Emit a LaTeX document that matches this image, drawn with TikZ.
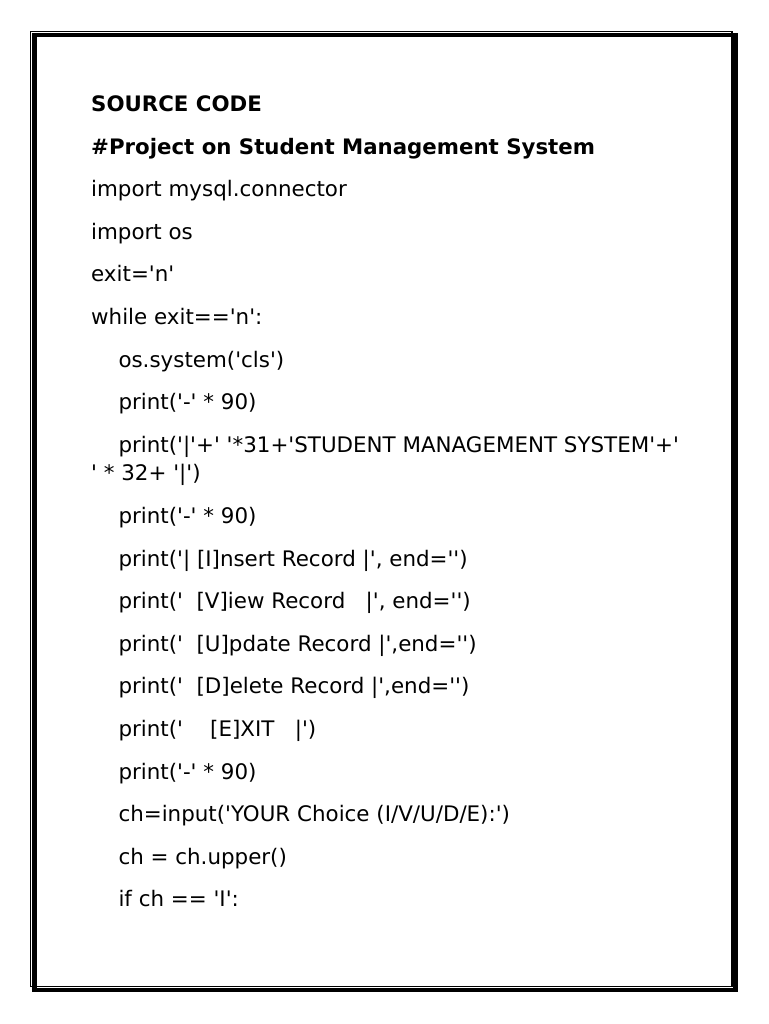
\documentclass[tikz,border=0pt]{standalone}
\usepackage{fontspec}
\newfontfamily\codefont{DejaVu Sans}
\begin{document}
\begin{tikzpicture}[x=1pt,y=-1pt,
  codeline/.style={anchor=base west, inner sep=0pt, font=\codefont\fontsize{21.4}{25}\selectfont},
  headline/.style={anchor=base west, inner sep=0pt, font=\codefont\bfseries\fontsize{21.3}{25}\selectfont},
  thickframe/.style={line width=4.5pt},
  thinframe/.style={line width=1.2pt}]
\useasboundingbox (0,0) rectangle (768,1024);
\fill[white] (0,0) rectangle (768,1024);
\draw[thinframe] (30.6,31.5) rectangle (732,986.2);
\draw[thickframe] (34.5,35.2) rectangle (735.5,990.2);
\node[headline] (l0) at (91,111.5) {SOURCE CODE};
\node[headline] (l1) at (91,154.1) {\#Project on Student Management System};
\node[codeline] (l2) at (91,196.7) {import mysql.connector};
\node[codeline] (l3) at (91,239.3) {import os};
\node[codeline] (l4) at (91,281.9) {exit='n'};
\node[codeline] (l5) at (91,324.5) {while exit=='n':};
\node[codeline] (l6) at (118.3,367.1) {os.system('cls')};
\node[codeline] (l7) at (118.3,409.7) {print('-' * 90)};
\node[codeline] (l8) at (118.3,452.3) {print('|'+' '*31+'STUDENT MANAGEMENT SYSTEM'+'};
\node[codeline] (l9) at (91,480) {' * 32+ '|')};
\node[codeline] (l10) at (118.3,523.5) {print('-' * 90)};
\node[codeline] (l11) at (118.3,566.1) {print('| [I]nsert Record |', end='')};
\node[codeline] (l12) at (118.3,608.7) {print('~~[V]iew Record~~~|', end='')};
\node[codeline] (l13) at (118.3,651.3) {print('~~[U]pdate Record |',end='')};
\node[codeline] (l14) at (118.3,693.9) {print('~~[D]elete Record |',end='')};
\node[codeline] (l15) at (118.3,736.5) {print('~~~~[E]XIT~~~|')};
\node[codeline] (l16) at (118.3,779.1) {print('-' * 90)};
\node[codeline] (l17) at (118.3,821.7) {ch=input('YOUR Choice (I/V/U/D/E):')};
\node[codeline] (l18) at (118.3,864.3) {ch = ch.upper()};
\node[codeline] (l19) at (118.3,906.9) {if ch == 'I':};
\end{tikzpicture}
\end{document}
